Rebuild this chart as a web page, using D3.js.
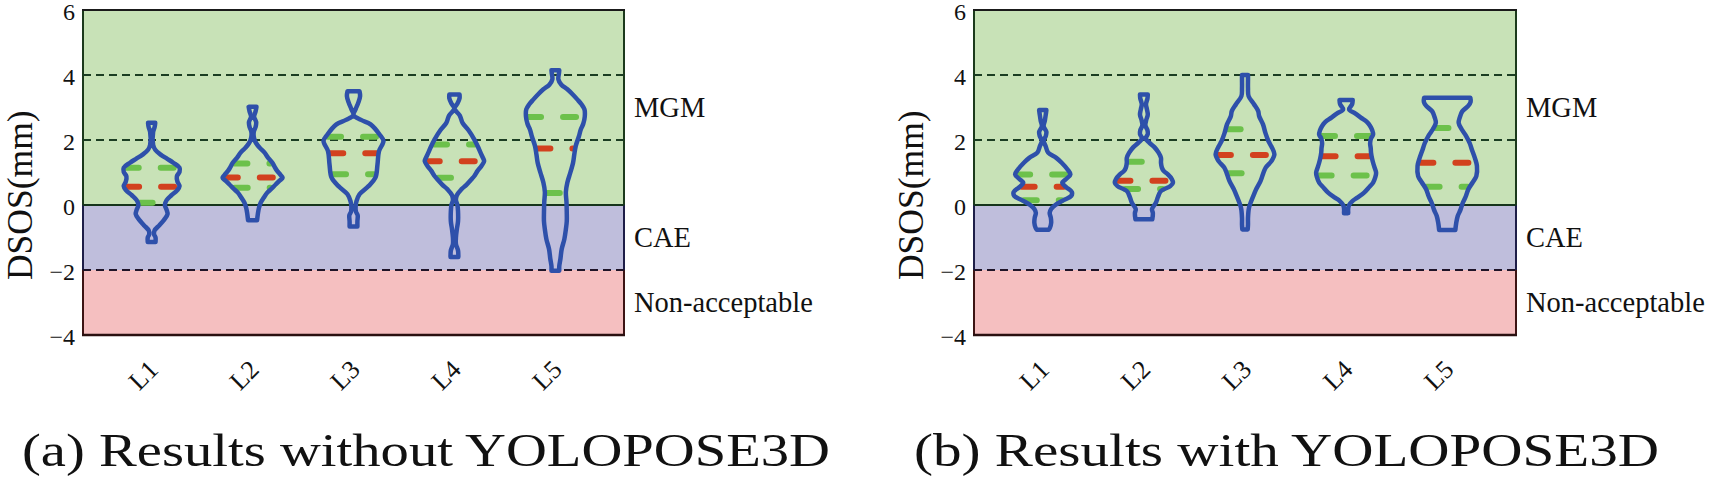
<!DOCTYPE html>
<html><head><meta charset="utf-8">
<script src="https://cdn.jsdelivr.net/npm/d3@7"></script>
<style>
html,body{margin:0;padding:0;background:#fff;}
svg{display:block;}
text{font-family:"Liberation Serif","Times New Roman",serif;fill:#111;}
</style></head><body>
<svg id="chart" width="1720" height="479"></svg>
<script>
// ---------- data ----------
const categories = ["L1","L2","L3","L4","L5"];
const yTicks = [-4,-2,0,2,4,6];
const zoneNames = ["MGM","CAE","Non-acceptable"];
const zoneFrom = [0,-2,-4];
const zoneTo = [6,0,-2];
const dashedGuides = [4,2,-2];
const solidGuides = [0];
const panelTitles = ["(a) Results without YOLOPOSE3D","(b) Results with YOLOPOSE3D"];

// violin outlines: [DSOS value, relative density half-width]
const shapesWithout = [
  [[2.53,0.12],[2.4,0.1],[2.25,0.05],[1.85,0.05],[1.7,0.12],[1.55,0.3],[1.42,0.52],[1.3,0.72],[1.15,0.93],[1.02,0.93],[0.88,0.84],[0.72,0.86],[0.58,0.93],[0.45,0.85],[0.3,0.66],[0.15,0.5],[0.0,0.44],[-0.15,0.5],[-0.28,0.53],[-0.45,0.42],[-0.62,0.26],[-0.78,0.1],[-0.9,0.08],[-1.0,0.13],[-1.14,0.13]],
  [[3.02,0.13],[2.88,0.1],[2.72,0.05],[2.55,0.12],[2.4,0.1],[2.25,0.04],[2.05,0.05],[1.9,0.12],[1.75,0.25],[1.61,0.4],[1.45,0.52],[1.3,0.66],[1.15,0.75],[1.05,0.82],[0.93,0.93],[0.84,1.0],[0.75,0.9],[0.63,0.77],[0.5,0.63],[0.38,0.49],[0.22,0.37],[0.07,0.27],[-0.1,0.21],[-0.25,0.18],[-0.47,0.15]],
  [[3.5,0.2],[3.35,0.22],[3.15,0.16],[2.95,0.07],[2.77,0.0],[2.62,0.25],[2.48,0.57],[2.17,0.87],[1.97,1.0],[1.66,0.85],[1.25,0.8],[0.84,0.73],[0.58,0.5],[0.33,0.2],[0.12,0.1],[-0.05,0.07],[-0.2,0.08],[-0.32,0.14],[-0.5,0.13],[-0.66,0.13]],
  [[3.4,0.17],[3.28,0.17],[3.12,0.1],[2.97,0.0],[2.75,0.18],[2.53,0.27],[2.3,0.47],[2.02,0.66],[1.8,0.78],[1.61,0.87],[1.45,0.95],[1.35,0.99],[1.2,0.9],[1.05,0.77],[0.9,0.67],[0.79,0.57],[0.62,0.4],[0.48,0.23],[0.3,0.08],[0.15,0.05],[0.0,0.1],[-0.2,0.12],[-0.5,0.12],[-0.75,0.08],[-1.0,0.05],[-1.2,0.05],[-1.4,0.12],[-1.6,0.13]],
  [[4.15,0.13],[4.05,0.12],[3.87,0.1],[3.7,0.2],[3.56,0.4],[3.4,0.58],[3.25,0.73],[3.1,0.87],[2.94,0.97],[2.72,0.98],[2.5,0.93],[2.33,0.85],[2.1,0.78],[1.82,0.68],[1.55,0.63],[1.3,0.59],[1.0,0.5],[0.69,0.4],[0.4,0.35],[0.1,0.37],[-0.24,0.38],[-0.5,0.38],[-0.75,0.35],[-1.05,0.3],[-1.36,0.21],[-1.65,0.17],[-1.88,0.13],[-2.02,0.13]]
];
const shapesWith = [
  [[2.92,0.12],[2.78,0.1],[2.6,0.07],[2.42,0.03],[2.25,0.12],[2.12,0.1],[1.98,0.03],[1.8,0.1],[1.61,0.18],[1.45,0.45],[1.3,0.63],[1.1,0.82],[0.94,0.92],[0.8,0.78],[0.68,0.65],[0.55,0.78],[0.4,0.97],[0.28,0.95],[0.15,0.7],[0.0,0.42],[-0.12,0.28],[-0.24,0.23],[-0.4,0.27],[-0.55,0.28],[-0.7,0.24],[-0.76,0.2]],
  [[3.4,0.13],[3.28,0.12],[3.1,0.07],[2.95,0.1],[2.78,0.13],[2.62,0.08],[2.45,0.05],[2.3,0.12],[2.18,0.13],[2.05,0.06],[1.92,0.18],[1.78,0.35],[1.61,0.49],[1.45,0.57],[1.3,0.57],[1.15,0.6],[1.05,0.66],[0.94,0.8],[0.8,0.93],[0.69,0.97],[0.58,0.88],[0.43,0.57],[0.25,0.47],[0.07,0.4],[-0.13,0.27],[-0.25,0.3],[-0.44,0.28]],
  [[4.0,0.1],[3.85,0.1],[3.6,0.1],[3.35,0.12],[3.1,0.3],[2.89,0.44],[2.74,0.47],[2.48,0.6],[2.22,0.68],[1.97,0.78],[1.8,0.88],[1.56,0.98],[1.35,0.88],[1.15,0.69],[0.95,0.6],[0.74,0.52],[0.5,0.38],[0.33,0.3],[0.1,0.2],[-0.1,0.13],[-0.4,0.1],[-0.6,0.1],[-0.75,0.09]],
  [[3.23,0.22],[3.1,0.2],[2.94,0.1],[2.82,0.3],[2.69,0.49],[2.55,0.7],[2.43,0.8],[2.3,0.87],[2.17,0.9],[2.05,0.83],[1.9,0.8],[1.75,0.82],[1.61,0.83],[1.45,0.86],[1.3,0.9],[1.15,0.95],[0.99,1.0],[0.85,0.97],[0.69,0.9],[0.55,0.77],[0.38,0.6],[0.22,0.36],[0.12,0.21],[0.0,0.1],[-0.1,0.07],[-0.25,0.07]],
  [[3.3,0.77],[3.18,0.78],[3.05,0.7],[2.88,0.5],[2.7,0.42],[2.53,0.38],[2.33,0.48],[2.12,0.63],[1.9,0.75],[1.71,0.82],[1.45,0.92],[1.2,0.99],[0.89,0.97],[0.7,0.85],[0.48,0.7],[0.27,0.62],[0.07,0.52],[-0.15,0.44],[-0.34,0.35],[-0.55,0.3],[-0.77,0.27]]
];
const q1Without = [0.07,0.53,0.95,0.84,0.37];
const medianWithout = [0.56,0.85,1.59,1.35,1.74];
const q3Without = [1.15,1.28,2.10,1.86,2.71];
const q1With = [0.15,0.49,0.98,0.91,0.56];
const medianWith = [0.56,0.75,1.54,1.50,1.30];
const q3With = [0.94,1.33,2.33,2.12,2.37];

// ---------- drawing ----------
const SERIF = '"Liberation Serif","Times New Roman",serif';
const svg = d3.select("#chart");
const y = d3.scaleLinear().domain([-4,6]).range([335,10]);
const w = d3.scaleLinear().domain([0,1]).range([0,30]);

const zoneFill = ["#c8e2b7","#bfbedc","#f5bfc0"];
const zoneEdge = ["#1c3a1c","#1e1e48","#3d1414"];

function widthAt(profile, v){
  for(let i=0;i<profile.length-1;i++){
    const a=profile[i], b=profile[i+1];
    if(v<=a[0] && v>=b[0]){
      const t=(a[0]-v)/(a[0]-b[0]);
      return a[1]+(b[1]-a[1])*t;
    }
  }
  return 0;
}

function drawPanel(cfg){
  const x = d3.scalePoint().domain(categories).range([cfg.left,cfg.right]).padding(0.68);
  const g = svg.append("g");
  // zones
  zoneNames.forEach((n,i)=>{
    g.append("rect").attr("x",cfg.left).attr("width",cfg.right-cfg.left)
      .attr("y",y(zoneTo[i])).attr("height",y(zoneFrom[i])-y(zoneTo[i]))
      .attr("fill",zoneFill[i]);
    [cfg.left,cfg.right].forEach(xx=>{
      g.append("line").attr("x1",xx).attr("x2",xx).attr("y1",y(zoneTo[i])).attr("y2",y(zoneFrom[i]))
        .attr("stroke",zoneEdge[i]).attr("stroke-width",2);
    });
    g.append("text").attr("x",cfg.right+10).attr("y",y((zoneFrom[i]+zoneTo[i])/2))
      .attr("dy","0.35em").attr("font-size",28.5).style("font-family",SERIF).text(n);
  });
  g.append("line").attr("x1",cfg.left-1).attr("x2",cfg.right+1).attr("y1",y(6)).attr("y2",y(6))
    .attr("stroke","#1a1a1a").attr("stroke-width",2);
  g.append("line").attr("x1",cfg.left-1).attr("x2",cfg.right+1).attr("y1",y(-4)).attr("y2",y(-4))
    .attr("stroke","#2a1010").attr("stroke-width",2.5);
  // guides
  dashedGuides.forEach(v=>{
    g.append("line").attr("x1",cfg.left).attr("x2",cfg.right).attr("y1",y(v)).attr("y2",y(v))
      .attr("stroke", v<0 ? "#1e1428" : "#1b3d22").attr("stroke-width",2)
      .attr("stroke-dasharray","8 5");
  });
  solidGuides.forEach(v=>{
    g.append("line").attr("x1",cfg.left).attr("x2",cfg.right).attr("y1",y(v)).attr("y2",y(v))
      .attr("stroke","#16351c").attr("stroke-width",2);
  });
  // y axis
  const ya = g.append("g").attr("transform",`translate(${cfg.left},0)`)
    .call(d3.axisLeft(y).tickValues(yTicks).tickSize(0).tickPadding(8).tickFormat(d3.format("d")));
  ya.select(".domain").remove();
  ya.attr("font-family",null);
  ya.selectAll("text").attr("font-size",24).style("font-family",SERIF).attr("fill","#111").attr("dy","0.38em");
  g.append("text").attr("transform",`translate(${cfg.left-51},${y(0.3)}) rotate(-90)`)
    .attr("text-anchor","middle").attr("font-size",35.5).style("font-family",SERIF).text("DSOS(mm)");
  // x axis labels
  categories.forEach(c=>{
    g.append("text").attr("transform",`translate(${x(c)+8},${y(-4)+36}) rotate(-45)`)
      .attr("text-anchor","end").attr("font-size",26).style("font-family",SERIF).text(c);
  });
  // violins
  categories.forEach((c,i)=>{
    const cx = x(c), prof = cfg.shapes[i];
    const quarts = [[cfg.q1[i],"#6cc14b"],[cfg.q3[i],"#6cc14b"],[cfg.med[i],"#d2411e"]];
    quarts.forEach(([v,col])=>{
      const hw = w(widthAt(prof,v));
      g.append("line").attr("x1",cx-hw+2).attr("x2",cx+hw-2).attr("y1",y(v)).attr("y2",y(v))
        .attr("stroke",col).attr("stroke-width",6).attr("stroke-linecap","round")
        .attr("stroke-dasharray","13 22");
    });
    const area = d3.area().y(d=>y(d[0])).x0(d=>cx-w(d[1])).x1(d=>cx+w(d[1]))
      .curve(d3.curveCatmullRom.alpha(0.5));
    g.append("path").attr("d",area(prof)).attr("fill","none")
      .attr("stroke","#2e50aa").attr("stroke-width",4.5).attr("stroke-linejoin","round");
  });
  // title
  svg.append("text").attr("x",cfg.titleX).attr("y",466).attr("font-size",47).style("font-family",SERIF)
    .attr("textLength",cfg.titleLen).attr("lengthAdjust","spacingAndGlyphs").text(cfg.title);
}

drawPanel({left:83,right:624,shapes:shapesWithout,q1:q1Without,med:medianWithout,q3:q3Without,
  title:panelTitles[0],titleX:22,titleLen:808});
drawPanel({left:974,right:1516,shapes:shapesWith,q1:q1With,med:medianWith,q3:q3With,
  title:panelTitles[1],titleX:914,titleLen:745});
</script>
</body></html>
